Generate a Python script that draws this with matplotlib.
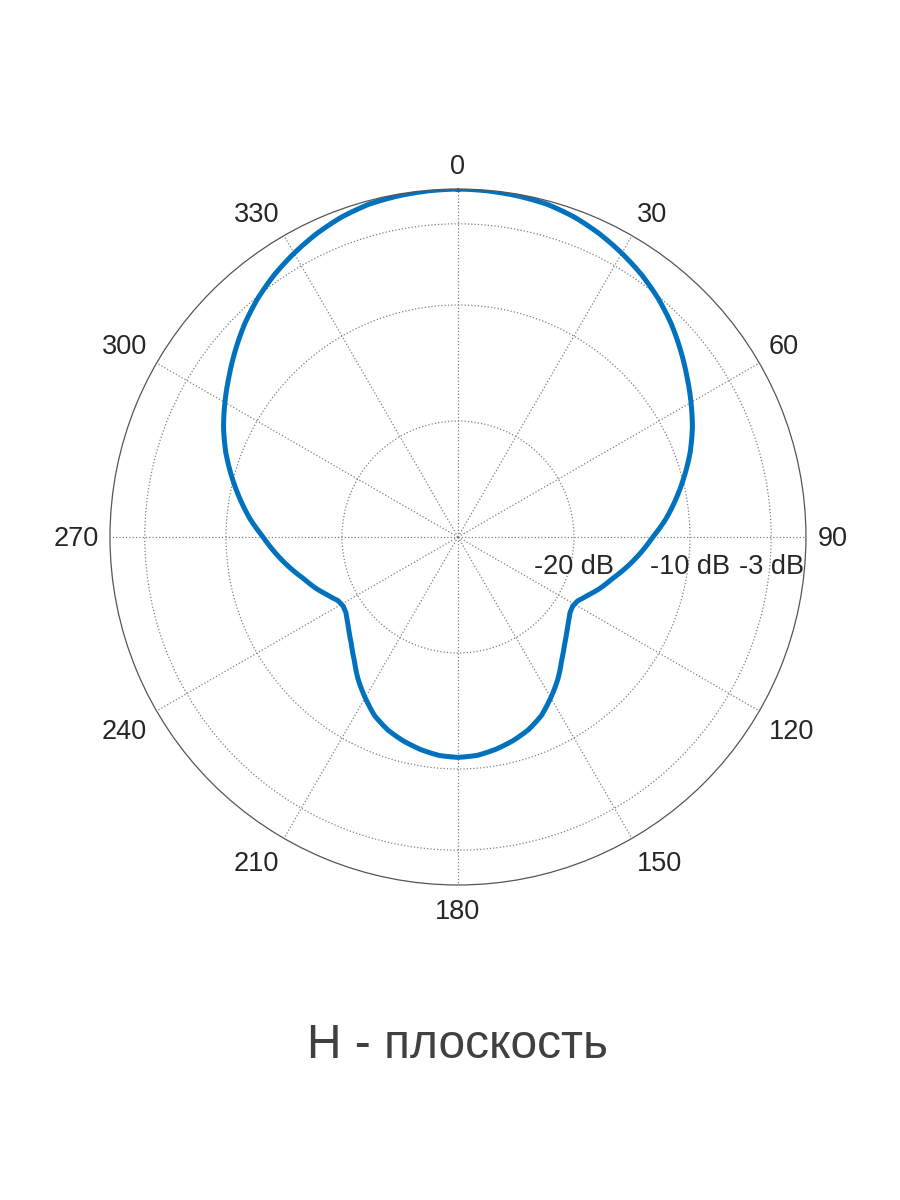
import numpy as np
import matplotlib.pyplot as plt

plt.rcParams['font.family'] = ['Liberation Sans', 'DejaVu Sans']

# Pattern (half plane, 0..180 deg, symmetric)
angles_deg = [0, 5, 10, 15, 20, 25, 30, 35, 40, 45, 50, 55, 60, 65, 70, 75, 80, 85,
              90, 95, 100, 105, 110, 114, 118, 121, 124, 127, 130, 135, 140, 145, 150,
              155, 160, 165, 170, 175, 180]
gain_db = [0.0, -0.05, -0.15, -0.3, -0.65, -1.15, -1.75, -2.4, -3.15, -4.0, -4.95, -5.9,
           -6.8, -7.7, -8.7, -9.8, -10.9, -12.0, -13.2, -14.2, -15.2, -16.2, -17.0,
           -17.7, -18.3, -18.45, -18.35, -18.05, -17.7, -17.0, -16.1, -15.0, -14.0,
           -13.0, -12.3, -11.8, -11.4, -11.1, -11.0]

ring_db = [-20, -10, -3]
ring_labels = ['-20 dB', '-10 dB', '-3 dB']
theta_ticks = list(range(0, 360, 30))
title = 'H - плоскость'

# full turn: right half then mirrored left half
theta = np.deg2rad(angles_deg + [360 - a for a in angles_deg[::-1][1:]])
gain = gain_db + gain_db[::-1][1:]

fig = plt.figure(figsize=(9, 12), dpi=100)
ax = fig.add_axes([0.1222, 0.2625, 0.7733, 0.58], projection='polar')
ax.set_theta_zero_location('N')
ax.set_theta_direction(-1)
ax.set_rlim(-30, 0)

ln, = ax.plot(theta, gain, color='#0072BD', lw=3.6, solid_joinstyle='round')
ln.get_path()._interpolation_steps = 20  # draw segments as polar arcs

ax.set_thetagrids(theta_ticks, [''] * len(theta_ticks))
ax.set_rticks(ring_db)
ax.set_yticklabels([])
ax.grid(True, color='#808080', linestyle=':', linewidth=0.9)
ax.spines['polar'].set_color('#555555')
ax.spines['polar'].set_linewidth(0.9)

# angle labels: point on a circle, shifted outward by half the label size (px)
axpx = 696.0
for t in theta_ticks:
    a = np.deg2rad(t)
    lab = str(t)
    s, c = np.sin(a), np.cos(a)
    sx = np.sign(round(s, 6))
    sy = np.sign(round(c, 6))
    dx = 360 * s + 7.2 * len(lab) * sx
    dy = 360 * c + 13 * sy - 2.5
    ax.text(0.5 + dx / axpx, 0.5 + dy / axpx, lab, transform=ax.transAxes,
            ha='center', va='center', fontsize=19.5, color='#262626')

for r, lab in zip(ring_db, ring_labels):
    ax.annotate(lab, xy=(np.pi / 2, r), xytext=(0, -12), textcoords='offset points',
                ha='center', va='top', fontsize=19.5, color='#262626')

fig.text(0.508, 0.1285, title, ha='center', va='center', fontsize=34.5, color='#404040')

fig.savefig('out.png', dpi=100)
